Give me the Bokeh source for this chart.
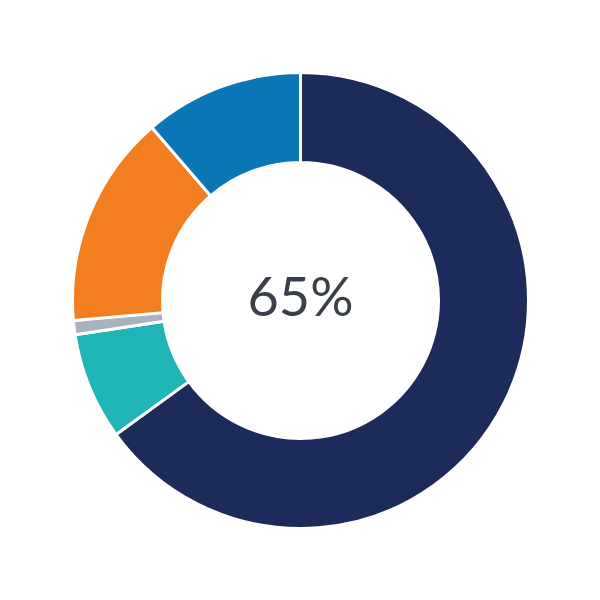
import math
from bokeh.plotting import figure
from bokeh.models import ColumnDataSource
from bokeh.core.properties import value
from bokeh.embed import file_html
from bokeh.resources import INLINE

categories = ["A", "B", "C", "D", "E"]
shares = [65.0, 7.6, 1.0, 15.1, 11.3]
colors = ["#1C2B59", "#1FB5B7", "#A9B1BE", "#F37E20", "#0A76B6"]
center_label = "65%"

total = sum(shares)
starts, ends = [], []
acc = 0.0
for s in shares:
    a0 = math.pi / 2 - acc / total * 2 * math.pi
    acc += s
    a1 = math.pi / 2 - acc / total * 2 * math.pi
    starts.append(a0)
    ends.append(a1)

src = ColumnDataSource(dict(cat=categories, val=shares, start=starts, end=ends, color=colors))

W = 584
p = figure(width=W, height=W, x_range=(-300, W - 300), y_range=(-(W - 300), 300),
           output_backend="svg", toolbar_location=None, min_border=0)
p.axis.visible = False
p.grid.visible = False
p.outline_line_color = None
p.background_fill_color = "white"

p.annular_wedge(x=0, y=0, inner_radius=138, outer_radius=228,
                start_angle="start", end_angle="end", direction="clock",
                fill_color="color", line_color="white", line_width=3, source=src)

p.text(x=[0], y=[0], text=[center_label], text_align="center", text_baseline="middle",
       y_offset=-5, text_font=value("Lato"), text_font_size="54px", text_color="#3A4049")

open("out.html", "w").write(file_html(p, INLINE))
